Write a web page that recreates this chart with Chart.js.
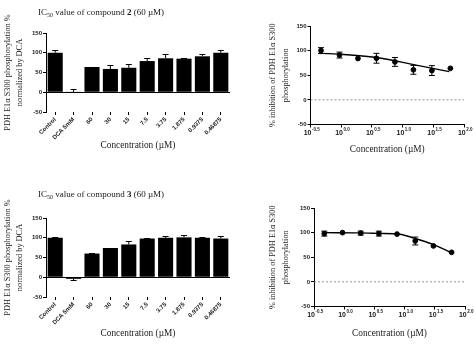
<!DOCTYPE html>
<html><head><meta charset="utf-8">
<script src="https://cdn.jsdelivr.net/npm/chart.js@4.4.1/dist/chart.umd.min.js"></script>
<style>
html,body{margin:0;padding:0;background:#fff;}
#wrap{position:relative;width:474px;height:345px;overflow:hidden;background:#fff;}
canvas{position:absolute;}
</style></head><body>
<div id="wrap">
<canvas id="c1" width="240" height="170" style="left:0;top:0"></canvas>
<canvas id="c2" width="234" height="170" style="left:240px;top:0"></canvas>
<canvas id="c3" width="240" height="173" style="left:0;top:172px"></canvas>
<canvas id="c4" width="234" height="173" style="left:240px;top:172px"></canvas>
</div>
<script>
// ---------- data ----------
const categories = ['Control', 'DCA 5mM', '60', '30', '15', '7.5', '3.75', '1.875', '0.9375', '0.46875'];
const cmpd2Mean = [100, 1, 64, 59, 62, 79, 86, 85, 91, 100];
const cmpd2Err  = [7, 6, 1, 10, 10, 8, 10, 1, 6, 6];
const cmpd3Mean = [100, -4, 60, 74, 83, 98, 100, 101, 100, 98];
const cmpd3Err  = [1, 4, 1, 1, 8, 1, 5, 5, 1, 6];

const logConc = [-0.329, -0.028, 0.273, 0.574, 0.875, 1.176, 1.477, 1.778];
const inh2    = [100, 91, 84, 84.5, 77, 61, 59.5, 64];
const inh2Err = [6, 6, 0, 10, 9, 9, 10, 0];
const inh3    = [98, 100, 99, 98, 97, 83, 73, 60];
const inh3Err = [5, 0, 4, 5, 0, 8, 0, 0];

const fit2X = [-0.28, 0.0, 0.6, 1.2, 1.76];
const fit2Y = [94.5, 92.5, 85.6, 71, 57.3];
const fit3X = [-0.33, 0.27, 0.57, 0.92, 1.16, 1.46, 1.77];
const fit3Y = [100, 99.5, 98.5, 96.7, 88.7, 76.6, 59.7];

const yTicksBar = [-50, 0, 50, 100, 150];
const logTickLabels = ['-0.5', '0.0', '0.5', '1.0', '1.5', '2.0'];
const zeroLineX = [-0.5, 2.0];

const barYTitle = ['PDH E1\u03b1 S300 phosphorylation %', 'normalized by DCA'];
const curveYTitle = ['% inhibition of PDH E1\u03b1 S300', 'phosphorylation'];
const xTitle = 'Concentration (\u00b5M)';

// ---------- helpers ----------
const SERIF = '"Liberation Serif", "Times New Roman", serif';
const SANS = '"Liberation Sans", Arial, sans-serif';
const INK = '#1a1a1a';

const decor = {
  id: 'decor',
  afterDatasetsDraw(chart, args, o) {
    const ctx = chart.ctx, xs = chart.scales.x, ys = chart.scales.y;
    ctx.save();
    ctx.strokeStyle = '#000'; ctx.lineWidth = 1;
    if (o.kind === 'bar') {
      const meta = chart.getDatasetMeta(0);
      meta.data.forEach((bar, i) => {
        const v = o.mean[i], e = o.err[i];
        const end = v >= 0 ? v + e : v - e;
        const y0 = ys.getPixelForValue(v), y1 = Math.round(ys.getPixelForValue(end)) + 0.5;
        ctx.beginPath();
        ctx.moveTo(bar.x, y0); ctx.lineTo(bar.x, y1);
        ctx.moveTo(bar.x - 3, y1); ctx.lineTo(bar.x + 3, y1);
        ctx.stroke();
      });
    } else {
      o.xs.forEach((xv, i) => {
        const e = o.err[i];
        if (!e) return;
        const px = xs.getPixelForValue(xv);
        const ya = ys.getPixelForValue(o.mean[i] + e), yb = ys.getPixelForValue(o.mean[i] - e);
        ctx.beginPath();
        ctx.moveTo(px, ya); ctx.lineTo(px, yb);
        ctx.moveTo(px - 3, ya); ctx.lineTo(px + 3, ya);
        ctx.moveTo(px - 3, yb); ctx.lineTo(px + 3, yb);
        ctx.stroke();
      });
    }
    ctx.restore();
  },
  afterDraw(chart, args, o) {
    const ctx = chart.ctx;
    ctx.save();
    ctx.fillStyle = INK;
    if (o.title) {
      const parts = [
        {t: 'IC', f: '9px ' + SERIF, dy: 0},
        {t: '50', f: '6px ' + SERIF, dy: 2.5},
        {t: ' value of compound ', f: '9px ' + SERIF, dy: 0},
        {t: o.title.num, f: 'bold 9px ' + SERIF, dy: 0},
        {t: ' (60 \u00b5M)', f: '9px ' + SERIF, dy: 0}
      ];
      let w = 0;
      parts.forEach(p => { ctx.font = p.f; p.w = ctx.measureText(p.t).width; w += p.w; });
      let x = o.title.cx - w / 2;
      ctx.textBaseline = 'middle'; ctx.textAlign = 'left';
      parts.forEach(p => { ctx.font = p.f; ctx.fillText(p.t, x, o.title.cy + p.dy); x += p.w; });
    }
    if (o.kind === 'curve') {
      const xs = chart.scales.x;
      const yb = chart.chartArea.bottom + 10;
      xs.ticks.forEach((tk, i) => {
        const px = xs.getPixelForValue(tk.value);
        ctx.font = 'bold 7px ' + SANS;
        const w1 = ctx.measureText('10').width;
        ctx.font = 'bold 4.5px ' + SANS;
        const w2 = ctx.measureText(logTickLabels[i]).width;
        const x0 = px - (w1 + w2) / 2 + 1;
        ctx.textBaseline = 'alphabetic'; ctx.textAlign = 'left';
        ctx.font = 'bold 7px ' + SANS;
        ctx.fillText('10', x0, yb);
        ctx.font = 'bold 4.5px ' + SANS;
        ctx.fillText(logTickLabels[i], x0 + w1 + 0.5, yb - 3.5);
      });
    }
    ctx.restore();
  }
};

function barChart(id, mean, err, num, box) {
  return new Chart(document.getElementById(id), {
    type: 'bar',
    data: {
      labels: categories,
      datasets: [{data: mean, backgroundColor: '#000', borderWidth: 0, barPercentage: 0.82, categoryPercentage: 1.0}]
    },
    options: {
      responsive: false, animation: false,
      layout: {padding: {left: 0, top: box.top, right: box.W - box.right, bottom: 0}},
      plugins: {legend: {display: false}, tooltip: {enabled: false},
        decor: {kind: 'bar', mean: mean, err: err, title: {num: num, cx: 101, cy: box.titleY}}},
      scales: {
        x: {
          offset: true,
          afterFit: s => { s.height = box.H - box.bottom; },
          border: {display: false},
          grid: {display: true, drawOnChartArea: false, offset: false, tickLength: 3, tickColor: '#000', tickWidth: 1},
          ticks: {autoSkip: false, minRotation: 45, maxRotation: 45, padding: 1, color: INK, font: {family: SANS, size: 6, weight: 'bold'}},
          title: {display: true, text: xTitle, color: INK, font: {family: SERIF, size: 9.3, lineHeight: 1.2}, padding: {top: 0, bottom: box.xTitlePad}}
        },
        y: {
          min: -50, max: 150,
          afterFit: s => { s.width = box.left; },
          afterBuildTicks: s => { s.ticks = yTicksBar.map(v => ({value: v})); },
          border: {display: true, color: '#000', width: 1},
          grid: {drawOnChartArea: true, color: c => (c.tick && c.tick.value === 0 ? '#000' : 'rgba(0,0,0,0)'), tickColor: '#000', tickLength: 3, lineWidth: 1},
          ticks: {padding: 1, color: INK, font: {family: SANS, size: 6, weight: 'bold'}},
          title: {display: true, text: barYTitle, color: INK, font: {family: SERIF, size: 8.3, lineHeight: 1.4}, padding: {top: 2.4, bottom: 0}}
        }
      }
    },
    plugins: [decor]
  });
}

function curveChart(id, ys, err, fx, fy, box) {
  return new Chart(document.getElementById(id), {
    type: 'scatter',
    data: {
      datasets: [
        {data: fx.map((x, i) => ({x: x, y: fy[i]})), showLine: true, borderColor: '#000', borderWidth: 1.4, pointRadius: 0, cubicInterpolationMode: 'monotone'},
        {data: zeroLineX.map(x => ({x: x, y: 0})), showLine: true, borderColor: '#777', borderWidth: 0.8, borderDash: [2, 2], pointRadius: 0},
        {data: logConc.map((x, i) => ({x: x, y: ys[i]})), showLine: false, backgroundColor: '#000', borderColor: '#000', pointRadius: 2.4, pointStyle: 'circle'}
      ]
    },
    options: {
      responsive: false, animation: false,
      layout: {padding: {left: 0, top: box.top, right: box.W - box.right, bottom: 0}},
      plugins: {legend: {display: false}, tooltip: {enabled: false},
        decor: {kind: 'curve', xs: logConc, mean: ys, err: err}},
      scales: {
        x: {
          type: 'linear', min: -0.5, max: 2.0,
          afterFit: s => { s.height = box.H - box.bottom; },
          border: {display: true, color: '#000', width: 1},
          grid: {drawOnChartArea: false, tickLength: 3, tickColor: '#000'},
          ticks: {stepSize: 0.5, callback: () => '', padding: 0},
          title: {display: true, text: xTitle, color: INK, font: {family: SERIF, size: 9.3, lineHeight: 1.2}, padding: {top: 0, bottom: box.xTitlePad}}
        },
        y: {
          min: -50, max: 150,
          afterFit: s => { s.width = box.left; },
          border: {display: true, color: '#000', width: 1},
          grid: {drawOnChartArea: false, tickLength: 3, tickColor: '#000'},
          ticks: {stepSize: 50, padding: 1, color: INK, font: {family: SANS, size: 6, weight: 'bold'}},
          title: {display: true, text: curveYTitle, color: INK, font: {family: SERIF, size: 8.3, lineHeight: 1.5}, padding: {top: box.yTitlePad, bottom: 0}}
        }
      }
    },
    plugins: [decor]
  });
}

barChart('c1', cmpd2Mean, cmpd2Err, '2', {W: 240, H: 170, left: 46, right: 230, top: 33, bottom: 112, titleY: 12.5, xTitlePad: 18.4});
barChart('c3', cmpd3Mean, cmpd3Err, '3', {W: 240, H: 173, left: 46, right: 230, top: 46, bottom: 125, titleY: 23, xTitlePad: 5.4});
curveChart('c2', inh2, inh2Err, fit2X, fit2Y, {W: 234, H: 170, left: 70.5, right: 224, top: 26, bottom: 124.5, xTitlePad: 14.4, yTitlePad: 27});
curveChart('c4', inh3, inh3Err, fit3X, fit3Y, {W: 234, H: 173, left: 74, right: 225, top: 36, bottom: 134.5, xTitlePad: 5.4, yTitlePad: 26.8});
</script>
</body></html>
